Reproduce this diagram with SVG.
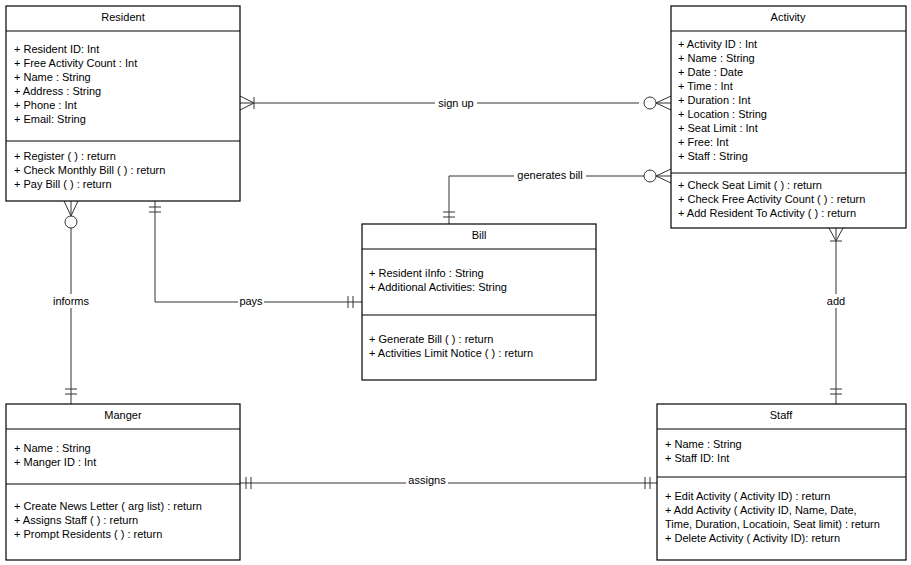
<svg xmlns="http://www.w3.org/2000/svg" width="911" height="565" viewBox="0 0 911 565">
<style>
.box{fill:#fff;stroke:#000;stroke-width:1.2}
.sep{stroke:#000;stroke-width:1.2}
text{font-family:"Liberation Sans",Arial,sans-serif;font-size:11px;fill:#000}
.h{text-anchor:middle}
.c{fill:none;stroke:#333;stroke-width:1}
.lbl{text-anchor:middle}
.bg{fill:#fff}
</style>
<rect width="911" height="565" fill="#fff"/>
<g id="connectors">
<!-- sign up -->
<path class="c" d="M240,103H639"/>
<path class="c" d="M254,97V109M240,96L254,103L240,110"/>
<circle class="c" cx="650" cy="103" r="6" fill="#fff"/>
<path class="c" d="M656,103H671M671,96L656,103L671,110"/>
<rect class="bg" x="435" y="96" width="42" height="13"/>
<text class="lbl" x="456" y="107">sign up</text>
<!-- generates bill -->
<path class="c" d="M449,224V176H644"/>
<path class="c" d="M443,212H455M443,217H455"/>
<circle class="c" cx="650" cy="176" r="6" fill="#fff"/>
<path class="c" d="M656,176H671M671,169L656,176L671,183"/>
<rect class="bg" x="514" y="169" width="72" height="13"/>
<text class="lbl" x="550" y="179">generates bill</text>
<!-- informs -->
<path class="c" d="M71,228V404"/>
<circle class="c" cx="71" cy="222" r="6" fill="#fff"/>
<path class="c" d="M71,216V201M64,201L71,216L78,201"/>
<path class="c" d="M65,389H77M65,394H77"/>
<rect class="bg" x="50" y="294" width="42" height="14"/>
<text class="lbl" x="71" y="305">informs</text>
<!-- pays -->
<path class="c" d="M155,201V302H362"/>
<path class="c" d="M149,207H161M149,212H161"/>
<path class="c" d="M348,296V308M353,296V308"/>
<rect class="bg" x="238" y="295" width="26" height="13"/>
<text class="lbl" x="251" y="305">pays</text>
<!-- add -->
<path class="c" d="M836,228V404"/>
<path class="c" d="M830,241H842M829,228L836,241L843,228"/>
<path class="c" d="M830,389H842M830,394H842"/>
<rect class="bg" x="824" y="294" width="24" height="14"/>
<text class="lbl" x="836" y="305">add</text>
<!-- assigns -->
<path class="c" d="M240,483H657"/>
<path class="c" d="M246,477V489M251,477V489M645,477V489M650,477V489"/>
<rect class="bg" x="406" y="476" width="42" height="13"/>
<text class="lbl" x="427" y="484">assigns</text>
</g>
<g id="resident">
<rect class="box" x="6" y="6" width="234" height="195"/>
<path class="sep" d="M6,31H240M6,141H240"/>
<text class="h" x="123" y="21">Resident</text>
<text x="14" y="53">+ Resident ID: Int</text>
<text x="14" y="67">+ Free Activity Count : Int</text>
<text x="14" y="81">+ Name : String</text>
<text x="14" y="95">+ Address : String</text>
<text x="14" y="109">+ Phone : Int</text>
<text x="14" y="123">+ Email: String</text>
<text x="14" y="160">+ Register ( ) : return</text>
<text x="14" y="174">+ Check Monthly Bill ( ) : return</text>
<text x="14" y="188">+ Pay Bill ( ) : return</text>
</g>
<g id="activity">
<rect class="box" x="671" y="6" width="235" height="222"/>
<path class="sep" d="M671,31H906M671,173H906"/>
<text class="h" x="788" y="21">Activity</text>
<text x="678" y="48">+ Activity ID : Int</text>
<text x="678" y="62">+ Name : String</text>
<text x="678" y="76">+ Date : Date</text>
<text x="678" y="90">+ Time : Int</text>
<text x="678" y="104">+ Duration : Int</text>
<text x="678" y="118">+ Location : String</text>
<text x="678" y="132">+ Seat Limit : Int</text>
<text x="678" y="146">+ Free: Int</text>
<text x="678" y="160">+ Staff : String</text>
<text x="678" y="189">+ Check Seat Limit ( ) : return</text>
<text x="678" y="203">+ Check Free Activity Count ( ) : return</text>
<text x="678" y="217">+ Add Resident To Activity ( ) : return</text>
</g>
<g id="bill">
<rect class="box" x="362" y="224" width="234" height="156"/>
<path class="sep" d="M362,249H596M362,315H596"/>
<text class="h" x="479" y="239">Bill</text>
<text x="369" y="277">+ Resident iInfo : String</text>
<text x="369" y="291">+ Additional Activities: String</text>
<text x="369" y="343">+ Generate Bill ( ) : return</text>
<text x="369" y="357">+ Activities  Limit Notice ( ) : return</text>
</g>
<g id="manger">
<rect class="box" x="6" y="404" width="234" height="156"/>
<path class="sep" d="M6,429H240M6,484H240"/>
<text class="h" x="123" y="419">Manger</text>
<text x="14" y="452">+ Name : String</text>
<text x="14" y="466">+ Manger ID : Int</text>
<text x="14" y="510">+ Create News Letter ( arg list) : return</text>
<text x="14" y="524">+ Assigns Staff ( ) : return</text>
<text x="14" y="538">+ Prompt Residents ( ) : return</text>
</g>
<g id="staff">
<rect class="box" x="657" y="404" width="249" height="156"/>
<path class="sep" d="M657,429H906M657,477H906"/>
<text class="h" x="781" y="419">Staff</text>
<text x="665" y="448">+ Name : String</text>
<text x="665" y="462">+ Staff ID: Int</text>
<text x="665" y="500">+  Edit Activity ( Activity ID) : return</text>
<text x="665" y="514">+ Add Activity ( Activity ID, Name, Date,</text>
<text x="665" y="528">Time, Duration, Locatioin, Seat limit) : return</text>
<text x="665" y="542">+ Delete Activity ( Activity ID): return</text>
</g>
</svg>
